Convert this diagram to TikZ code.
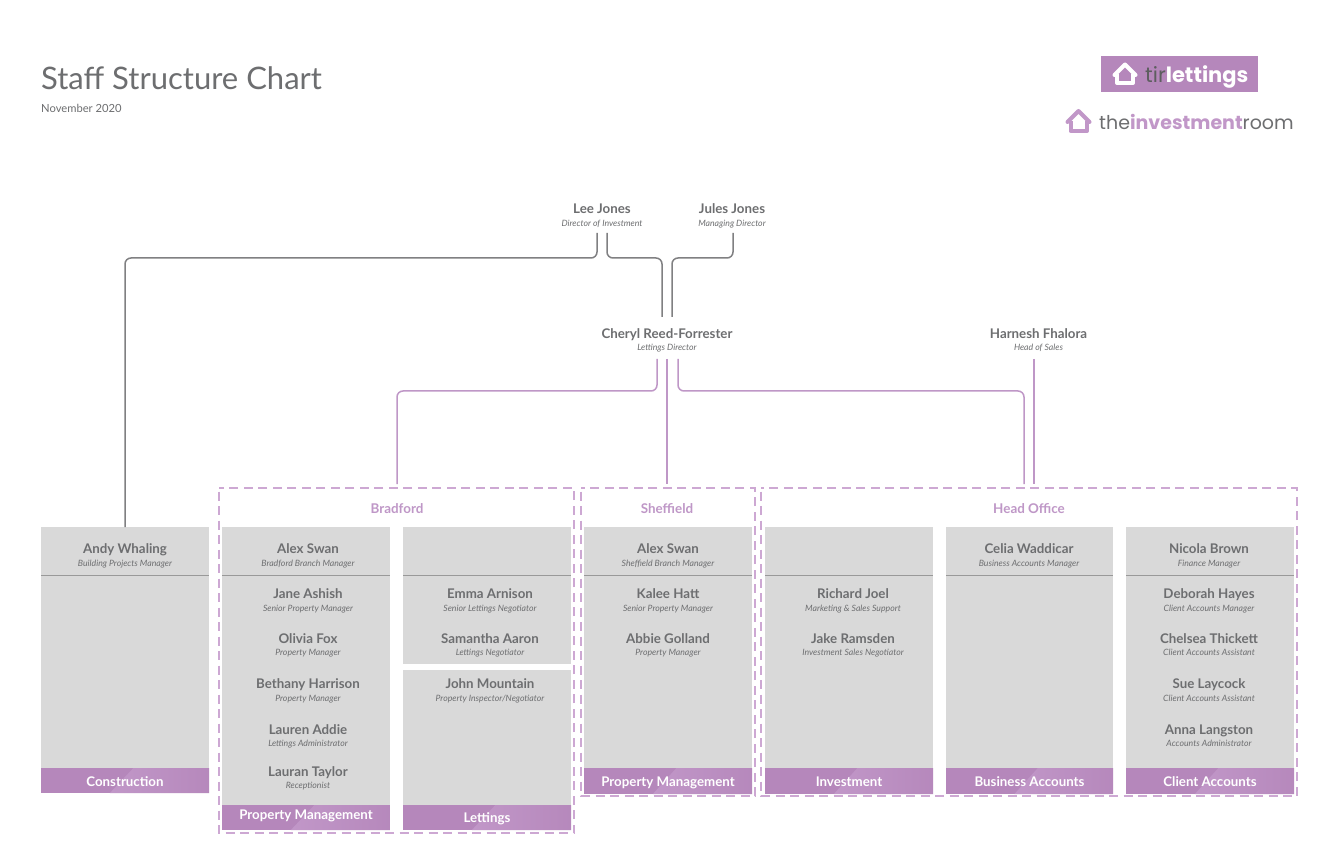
\documentclass[tikz,border=0pt]{standalone}
\usepackage{fontspec}
\setmainfont{Lato}
\newfontfamily\logofont{Poppins}
\usepackage{tikz}
\usetikzlibrary{calc}
\definecolor{chartgrey}{HTML}{D9D9D9}
\definecolor{chartplum}{HTML}{B587BB}
\definecolor{chartlight}{HTML}{C197C8}
\definecolor{chartline}{HTML}{BF97C7}
\definecolor{chartdash}{HTML}{CDA8D3}
\definecolor{charttext}{HTML}{6D6E70}
\definecolor{chartlink}{HTML}{808082}
\tikzset{
  name text/.style={text=charttext,font=\fontsize{13.3}{15}\selectfont\bfseries,inner sep=0pt,anchor=base},
  role text/.style={text=charttext,font=\fontsize{8.7}{10}\selectfont\itshape,inner sep=0pt,anchor=base},
  band text/.style={text=white,font=\fontsize{13.3}{15}\selectfont\bfseries,inner sep=0pt,anchor=base},
  area text/.style={text=chartline,font=\fontsize{13.4}{15}\selectfont\bfseries,inner sep=0pt,anchor=base},
  panel/.style={fill=chartgrey,draw=none},
  grey link/.style={draw=chartlink,line width=1.5pt,rounded corners=6pt},
  plum link/.style={draw=chartline,line width=1.5pt,rounded corners=6pt},
  area box/.style={draw=chartdash,line width=1.5pt,dash pattern=on 9pt off 5.5pt,dash phase=11pt},
}
% name at (x,y), role below, baseline offset in the option
\newcommand{\staff}[5][18]{%
  \node[name text] (#2) at (#3,#4+5) {#5};
  \coordinate (#2pos) at (#3,#4+#1);
}
\newcommand{\role}[2]{\node[role text] (#1r) at (#1pos) {#2};}
\newcommand{\panelbox}[5]{%
  \fill[panel] (#2,#3) rectangle (#4,#5);
  \coordinate (#1) at ($(#2,#3)!0.5!(#4,#5)$);
}
% band from (x1,y1) to (x2,y2), label baseline at #6
\newcommand{\bandbox}[7]{%
  \fill[chartplum] (#2,#3) rectangle (#4,#5);
  \shade[left color=chartlight,right color=chartplum!92!chartlight] ($(#2,#5)!0.41!(#4,#5)$) -- ($(#2,#3)!0.55!(#4,#3)$) -- (#4,#3) -- (#4,#5) -- cycle;
  \node[band text] (#1) at ($(#2,0)!0.5!(#4,0)+(0,#6)$) {#7};
}
\begin{document}
\begin{tikzpicture}[x=1pt,y=-1pt]
\useasboundingbox (0,0) rectangle (1336,858);
\fill[white] (0,0) rectangle (1336,858);

\node[anchor=base west,text=charttext,inner sep=0pt,font=\fontsize{31}{34}\selectfont] (title) at (41,90) {Staff Structure Chart};
\node[anchor=base west,text=charttext,inner sep=0pt,font=\fontsize{11.2}{13}\selectfont] (date) at (41,113) {November 2020};

% logos
\fill[chartplum] (1101,56) rectangle (1258,92);
\draw[white,line width=4pt,line join=round] (1117,74) -- (1117,83) -- (1133,83) -- (1133,74);
\draw[white,line width=4pt,line join=round,line cap=round] (1114.5,75) -- (1125,64.5) -- (1135.5,75);
\node[anchor=base west,inner sep=0pt,font=\logofont\fontsize{21}{24}\selectfont] (tir) at (1145,83) {\textcolor{charttext!85!black}{tir}\textcolor{white}{\bfseries lettings}};
\draw[chartlight,line width=4pt,line join=round] (1070.5,121) -- (1070.5,131) -- (1087,131) -- (1087,121);
\draw[chartlight,line width=4pt,line join=round,line cap=round] (1067.5,122) -- (1078.5,111) -- (1089.5,122);
\node[anchor=base west,inner sep=0pt,font=\logofont\fontsize{19}{24}\selectfont] (room) at (1099,130) {\textcolor{charttext}{the}\textcolor{chartlight}{\bfseries investment}\textcolor{charttext}{room}};

% dashed areas
\draw[area box] (219,488) rectangle (574,833);
\draw[area box] (581,488) rectangle (755,796);
\draw[area box] (761,488) rectangle (1297,796);
\node[area text] (bradford) at (397,513) {Bradford};
\node[area text] (sheffield) at (667,513) {Sheffield};
\node[area text] (headoffice) at (1029,513) {Head Office};

% panels
\panelbox{p1}{41}{527}{209}{768}
\panelbox{p2}{222}{527}{390}{805}
\panelbox{p3}{403}{527}{571}{664}
\panelbox{p4}{403}{670}{571}{805}
\panelbox{p5}{584}{527}{752}{768}
\panelbox{p6}{765}{527}{933}{768}
\panelbox{p7}{946}{527}{1113}{768}
\panelbox{p8}{1126}{527}{1294}{768}
\draw[black!40,line width=.8pt] (41,575) -- (209,575) (222,575) -- (390,575) (403,575) -- (571,575) (584,575) -- (752,575) (765,575) -- (933,575) (946,575) -- (1113,575) (1126,575) -- (1294,575);

\bandbox{b1}{41}{768}{209}{793}{786}{Construction}
\bandbox{b2}{222}{805}{390}{830}{819}{Property Management}
\bandbox{b3}{403}{805}{571}{830}{822}{Lettings}
\bandbox{b5}{584}{768}{752}{794}{786}{Property Management}
\bandbox{b6}{765}{768}{933}{794}{786}{Investment}
\bandbox{b7}{946}{768}{1113}{794}{786}{Business Accounts}
\bandbox{b8}{1126}{768}{1294}{794}{786}{Client Accounts}

% people
\staff{lee}{602}{209}{Lee Jones}\role{lee}{Director of Investment}
\staff{jules}{732}{209}{Jules Jones}\role{jules}{Managing Director}
\staff[17]{cheryl}{667}{334}{Cheryl Reed-Forrester}\role{cheryl}{Lettings Director}
\staff[17]{harnesh}{1038.5}{334}{Harnesh Fhalora}\role{harnesh}{Head of Sales}
\staff{andy}{125}{548}{Andy Whaling}\role{andy}{Building Projects Manager}
\staff{alex}{308}{548}{Alex Swan}\role{alex}{Bradford Branch Manager}
\staff{jane}{308}{593}{Jane Ashish}\role{jane}{Senior Property Manager}
\staff[17]{olivia}{308}{638}{Olivia Fox}\role{olivia}{Property Manager}
\staff{bethany}{308}{683}{Bethany Harrison}\role{bethany}{Property Manager}
\staff[17]{lauren}{308}{729}{Lauren Addie}\role{lauren}{Lettings Administrator}
\staff[17]{lauran}{308}{771}{Lauran Taylor}\role{lauran}{Receptionist}
\staff{emma}{490}{593}{Emma Arnison}\role{emma}{Senior Lettings Negotiator}
\staff[17]{samantha}{490}{638}{Samantha Aaron}\role{samantha}{Lettings Negotiator}
\staff{john}{490}{683}{John Mountain}\role{john}{Property Inspector/Negotiator}
\staff{alexs}{668}{548}{Alex Swan}\role{alexs}{Sheffield Branch Manager}
\staff{kalee}{668}{593}{Kalee Hatt}\role{kalee}{Senior Property Manager}
\staff[17]{abbie}{668}{638}{Abbie Golland}\role{abbie}{Property Manager}
\staff{richard}{853}{593}{Richard Joel}\role{richard}{Marketing \& Sales Support}
\staff[17]{jake}{853}{638}{Jake Ramsden}\role{jake}{Investment Sales Negotiator}
\staff{celia}{1029}{548}{Celia Waddicar}\role{celia}{Business Accounts Manager}
\staff{nicola}{1209}{548}{Nicola Brown}\role{nicola}{Finance Manager}
\staff{deborah}{1209}{593}{Deborah Hayes}\role{deborah}{Client Accounts Manager}
\staff[17]{chelsea}{1209}{638}{Chelsea Thickett}\role{chelsea}{Client Accounts Assistant}
\staff{sue}{1209}{683}{Sue Laycock}\role{sue}{Client Accounts Assistant}
\staff[17]{anna}{1209}{729}{Anna Langston}\role{anna}{Accounts Administrator}

% connectors
\coordinate (cherylgl) at (662,317);
\coordinate (cherylgr) at (672,317);
\coordinate (leel) at (597,233);
\coordinate (leer) at (607,233);
\coordinate (julesb) at (733,233);
\coordinate (cherylpl) at (657,359);
\coordinate (cherylpm) at (667,359);
\coordinate (cherylpr) at (678,359);
\coordinate (harneshb) at (1034,359);
\coordinate (bradtop) at (397,484);
\coordinate (sheftop) at (667,484);
\coordinate (headl) at (1024,484);
\coordinate (headr) at (1034,484);
\coordinate (andytop) at (125,527);

\draw[grey link] (leel) |- (andytop |- 0,258) -- (andytop);
\draw[grey link] (leer) |- (cherylgl |- 0,258) -- (cherylgl);
\draw[grey link] (julesb) |- (cherylgr |- 0,258) -- (cherylgr);
\draw[plum link] (cherylpl) |- (bradtop |- 0,391) -- (bradtop);
\draw[plum link] (cherylpm) -- (sheftop);
\draw[plum link] (cherylpr) |- (headl |- 0,391) -- (headl);
\draw[plum link] (harneshb) -- (headr);
\end{tikzpicture}
\end{document}
